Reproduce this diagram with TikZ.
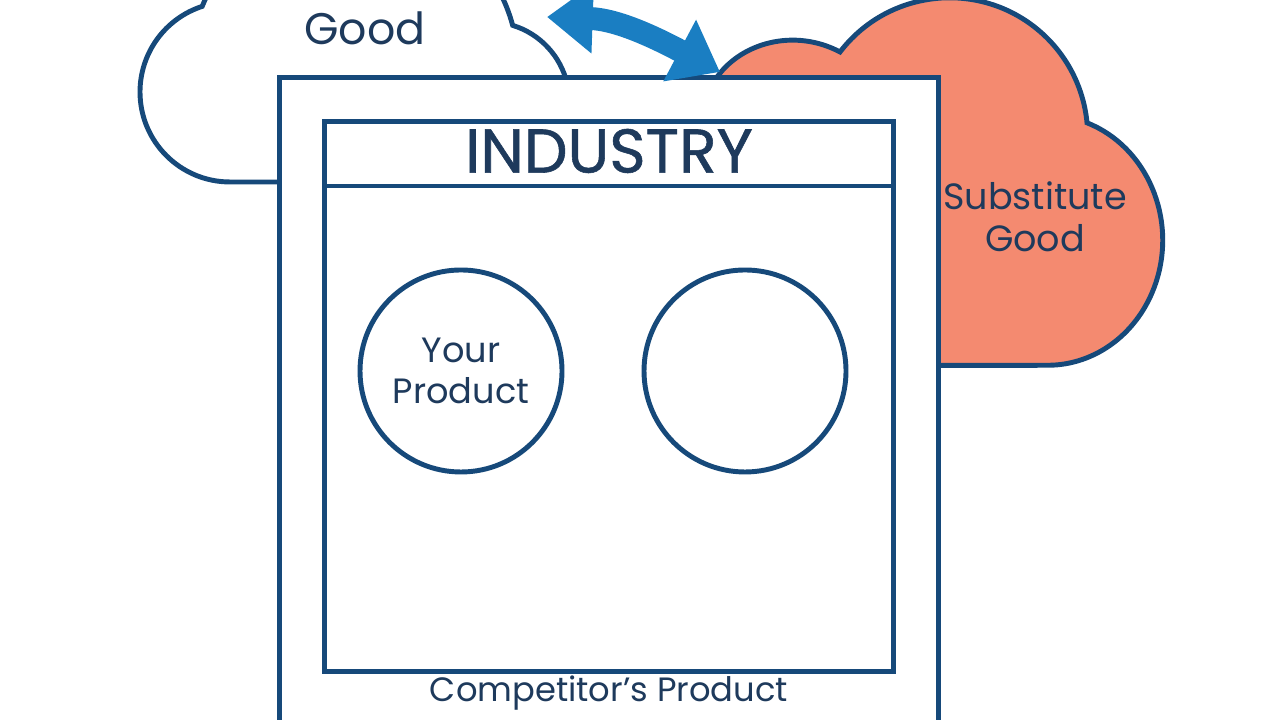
\documentclass[tikz,border=0pt]{standalone}
\usepackage{fontspec}
\setmainfont{Poppins}
\newfontfamily\headfont[FakeBold=0.9]{Poppins}
\usepackage{tikz}
\usetikzlibrary{arrows.meta}
\definecolor{navy}{HTML}{16497A}
\definecolor{inktext}{HTML}{1E3A5C}
\definecolor{salmon}{HTML}{F48A70}
\definecolor{swapblue}{HTML}{1A7EC2}

\begin{document}
\begin{tikzpicture}[line width=1.4pt,
	outline/.style={draw=navy, line width=1.4pt},
	prod/.style={circle, outline, minimum size=2.02cm, inner sep=0pt, text=inktext, align=center},
	lbl/.style={text=inktext, align=center, inner sep=0pt}]
			%%Location
			\clip (0,0) rectangle (12.8,7.2);
			%%Clouds
			\draw[outline, fill=white] (3.0,5.38) -- (2.30,5.38)
				arc[start angle=270, end angle=108, radius=0.90]
				arc[start angle=158, end angle=15, radius=1.64]
				arc[start angle=73, end angle=-30, radius=0.80] -- cycle;
			\draw[outline, fill=salmon] (7.15,6.40) .. controls (7.40,6.78) and (7.95,6.92) .. (8.40,6.68)
				arc[start angle=142.6, end angle=5.4, radius=1.38]
				arc[start angle=70, end angle=-90, x radius=1.15, y radius=1.25] -- (9.0,3.545) -- cycle;
			%%Industry box
			\node[outline, fill=white, minimum width=6.59cm, minimum height=7.0cm, inner sep=0pt, anchor=north west] (frame) at (2.77,6.45) {};
			\node[outline, minimum width=5.69cm, minimum height=5.50cm, inner sep=0pt, anchor=north west] (body) at (3.22,6.01) {};
			\draw[outline] ([yshift=-0.67cm]body.north west) -- ([yshift=-0.67cm]body.north east);
			\node[lbl, font=\headfont\fontsize{17.6}{20}\selectfont] (head) at ([yshift=-0.32cm]body.north) {INDUSTRY};
			%%Products
			\node[prod, font=\fontsize{10}{11.5}\selectfont] (yours) at (4.61,3.49) {Your\\Product};
			\node[prod] (theirs) at (7.45,3.49) {};
			%%Arrow
			\coordinate (swapL) at (5.47,7.03);
			\coordinate (swapR) at (7.20,6.48);
			\draw[swapblue, line width=6.5pt, {Triangle[length=13pt,width=19pt]}-{Triangle[length=13pt,width=19pt]}] (swapL) to[out=-2, in=152] (swapR);
			%%Label
			\node[lbl, font=\fontsize{12.6}{15}\selectfont] (good) at (3.65,6.92) {Good};
			\node[lbl, font=\fontsize{10.4}{12}\selectfont] (subst) at (10.35,5.03) {Substitute\\Good};
			\node[lbl, font=\fontsize{9.6}{11}\selectfont] (rival) at (6.09,0.27) {Competitor's Product};
\end{tikzpicture}
\end{document}
